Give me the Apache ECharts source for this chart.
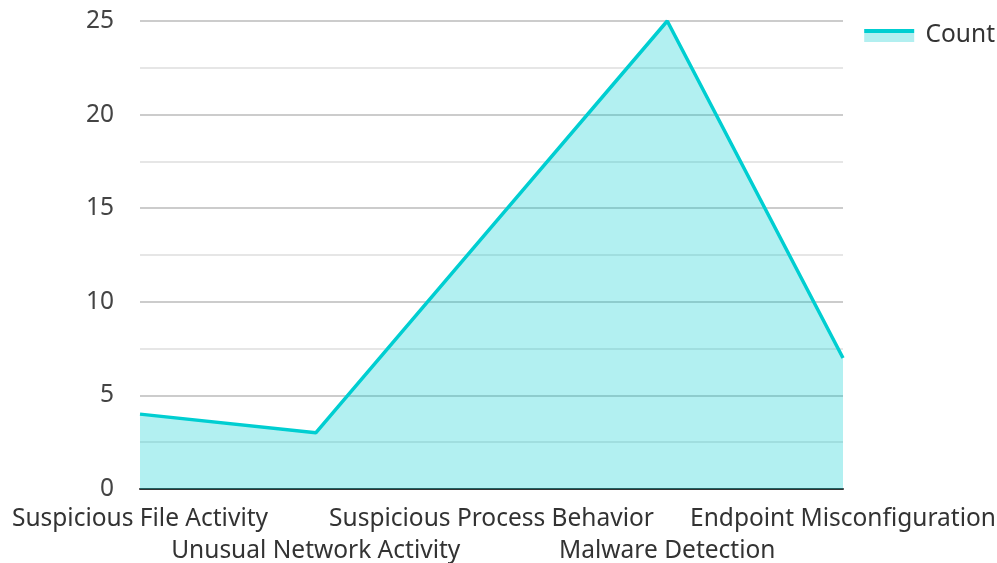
<!DOCTYPE html>
<html>
<head>
<meta charset="utf-8">
<script src="https://cdn.jsdelivr.net/npm/echarts@6/dist/echarts.min.js"></script>
<style>
  html, body { margin: 0; padding: 0; background: #fff; }
  #chart { width: 997px; height: 563px; }
</style>
</head>
<body>
<div id="chart"></div>
<script>
const categories = [
  'Suspicious File Activity',
  'Unusual Network Activity',
  'Suspicious Process Behavior',
  'Malware Detection',
  'Endpoint Misconfiguration'
];
const counts = [4, 3, 14, 25, 7];
const seriesName = 'Count';

const lineColor = '#00CED1';
const fillColor = '#b2eff0';

const chart = echarts.init(document.getElementById('chart'));
chart.setOption({
  animation: false,
  textStyle: { fontFamily: 'Noto Sans' },
  legend: {
    right: 2,
    top: 23,
    padding: 0,
    itemWidth: 50,
    itemHeight: 13,
    itemGap: 10,
    icon: 'rect',
    itemStyle: {
      color: new echarts.graphic.LinearGradient(0, 0, 0, 1, [
        { offset: 0, color: lineColor },
        { offset: 0.3, color: lineColor },
        { offset: 0.3, color: fillColor },
        { offset: 1, color: fillColor }
      ])
    },
    formatter: (name) => ' ' + name,
    textStyle: { fontSize: 24.5, color: '#333', fontFamily: 'Noto Sans' },
    data: [seriesName]
  },
  grid: { left: 140, right: 154, top: 21, bottom: 74, containLabel: false, outerBoundsMode: 'none' },
  xAxis: {
    type: 'category',
    boundaryGap: false,
    data: categories,
    axisLine: { lineStyle: { color: '#333', width: 2 } },
    axisTick: { show: false },
    axisLabel: {
      interval: 0,
      margin: 14,
      fontSize: 24.5,
      color: '#333',
      lineHeight: 32,
      formatter: (v, i) => (i % 2 === 1 ? '\n' + v : v)
    }
  },
  yAxis: {
    type: 'value',
    min: 0,
    max: 25,
    interval: 5,
    axisLine: { show: false },
    axisTick: { show: false },
    axisLabel: { fontSize: 24.5, color: '#444', margin: 26 },
    splitLine: { lineStyle: { color: '#ccc', width: 2 } },
    minorTick: { show: false, splitNumber: 2 },
    minorSplitLine: { show: true, lineStyle: { color: '#e6e6e6', width: 2 } }
  },
  series: [{
    name: seriesName,
    type: 'line',
    data: counts,
    symbol: 'none',
    lineStyle: { color: lineColor, width: 3.5 },
    itemStyle: { color: lineColor },
    areaStyle: { color: lineColor, opacity: 0.3 },
    z: 1
  }]
});
</script>
</body>
</html>
